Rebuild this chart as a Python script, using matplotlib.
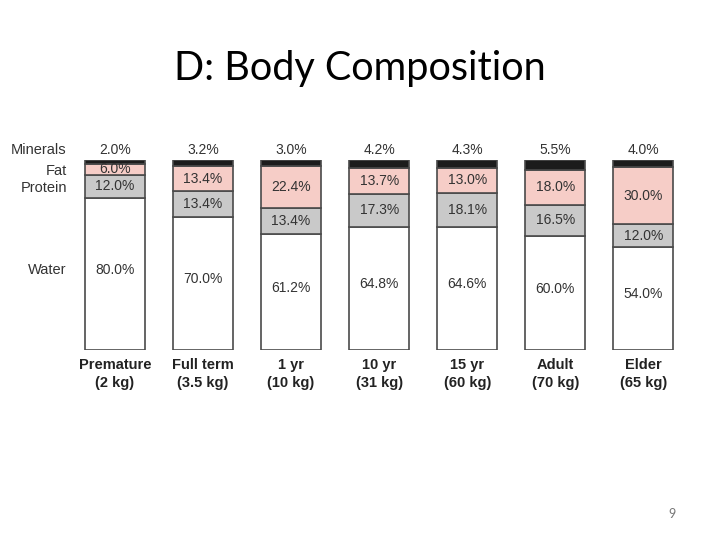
import matplotlib.pyplot as plt

# data (percent of body weight)
groups = ['Premature\n(2 kg)', 'Full term\n(3.5 kg)', '1 yr\n(10 kg)', '10 yr\n(31 kg)',
          '15 yr\n(60 kg)', 'Adult\n(70 kg)', 'Elder\n(65 kg)']
water = [80.0, 70.0, 61.2, 64.8, 64.6, 60.0, 54.0]
protein = [12.0, 13.4, 13.4, 17.3, 18.1, 16.5, 12.0]
fat = [6.0, 13.4, 22.4, 13.7, 13.0, 18.0, 30.0]
minerals = [2.0, 3.2, 3.0, 4.2, 4.3, 5.5, 4.0]

plt.rcParams['font.family'] = ['Liberation Sans', 'DejaVu Sans']
txt = '#333333'
edge = '#4a4a4a'

fig = plt.figure(figsize=(7.2, 5.4), dpi=100)
fig.patch.set_facecolor('white')

fig.text(0.5, 0.873, 'D: Body Composition', ha='center', va='center',
         fontsize=28.5, family=['Lato', 'DejaVu Sans'], color='black')
fig.text(0.933, 0.048, '9', ha='center', va='center', fontsize=9,
         family=['Lato', 'DejaVu Sans'], color='#777777')

ax = fig.add_axes([0.0986, 0.352, 0.856, 0.352])
x = list(range(len(groups)))
w = 0.68

layers = [(water, 'white'), (protein, '#c9c9c9'), (fat, '#f6cdc7'), (minerals, '#1c1c1c')]
bottoms = [0.0] * len(groups)
for vals, col in layers:
    ax.bar(x, vals, w, bottom=bottoms, color=col, edgecolor=edge, linewidth=1.2)
    if vals is not minerals:
        for i, v in enumerate(vals):
            off = 3 if vals is water else 0
            ax.annotate(f'{v:.1f}%', (x[i], bottoms[i] + v / 2), xytext=(0, off),
                        textcoords='offset points', ha='center', va='center',
                        fontsize=10, color=txt)
    bottoms = [b + v for b, v in zip(bottoms, vals)]

for i, v in enumerate(minerals):
    ax.annotate(f'{v:.1f}%', (x[i], 100), xytext=(0, 7), textcoords='offset points',
                ha='center', va='center', fontsize=10, color=txt)

# row labels on the left, lined up with the premature bar
side = [('Minerals', 100, 7), ('Fat', water[0] + protein[0] + fat[0] / 2, -1),
        ('Protein', water[0] + protein[0] / 2, -1), ('Water', water[0] / 2, 3)]
for name, yv, off in side:
    ax.annotate(name, (-0.5, yv), xytext=(-3, off), textcoords='offset points',
                ha='right', va='center', fontsize=10.5, color=txt, annotation_clip=False)

ax.set_xlim(-0.5, len(groups) - 0.5)
ax.set_ylim(0, 100)
ax.set_xticks(x)
ax.set_xticklabels(groups, fontweight='bold', fontsize=10.5, color='#222222', linespacing=1.35)
ax.tick_params(axis='x', length=0, pad=6)
ax.set_yticks([])
for s in ax.spines.values():
    s.set_visible(False)

fig.savefig('out.png', dpi=100, facecolor='white')
